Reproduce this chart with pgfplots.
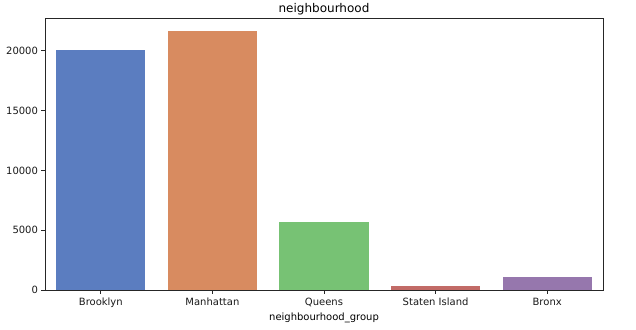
\documentclass[border=0pt]{standalone}
\usepackage{pgfplots}
\pgfplotsset{compat=1.18}
\usepackage{fontspec}
\setmainfont{DejaVu Sans}
\definecolor{cB}{HTML}{5B7DC0}
\definecolor{cM}{HTML}{D88B60}
\definecolor{cQ}{HTML}{77C274}
\definecolor{cS}{HTML}{C26B67}
\definecolor{cX}{HTML}{9677AD}
\begin{document}
\fontsize{10bp}{12bp}\selectfont
\begin{tikzpicture}
\begin{axis}[
  scale only axis,
  width=558bp, height=272bp,
  xmin=-0.5, xmax=4.5,
  ymin=0, ymax=22744,
  ybar, bar width=0.8, bar shift=0pt,
  xtick={0,1,2,3,4},
  xticklabels={Brooklyn,Manhattan,Queens,Staten Island,Bronx},
  ytick={0,5000,10000,15000,20000},
  scaled y ticks=false,
  /pgf/number format/assume math mode=true,
  yticklabel={\pgfmathprintnumber[fixed,1000 sep={}]{\tick}},
  tick align=outside,
  major tick length=3.5bp,
  tick style={black!85, line width=0.8bp},
  axis line style={black!85, line width=0.8bp},
  xtick pos=bottom, ytick pos=left,
  ticklabel style={font=\fontsize{10bp}{12bp}\selectfont, text=black!90},
  xticklabel style={yshift=-1bp},
  title={neighbourhood},
  title style={font=\fontsize{12bp}{14bp}\selectfont, yshift=-7bp},
  xlabel={neighbourhood\_group},
  xlabel style={font=\fontsize{10bp}{12bp}\selectfont, yshift=1.5bp},
  every axis plot/.append style={draw=none},
]
\addplot[fill=cB] coordinates {(0,20104)};
\addplot[fill=cM] coordinates {(1,21661)};
\addplot[fill=cQ] coordinates {(2,5666)};
\addplot[fill=cS] coordinates {(3,373)};
\addplot[fill=cX] coordinates {(4,1091)};
\coordinate (sw) at (rel axis cs:0,0);
\coordinate (ne) at (rel axis cs:1,1);
\end{axis}
\pgfresetboundingbox
\path[use as bounding box] ([xshift=-45bp,yshift=-40bp]sw) rectangle ([xshift=33bp,yshift=18bp]ne);
\end{tikzpicture}
\end{document}
